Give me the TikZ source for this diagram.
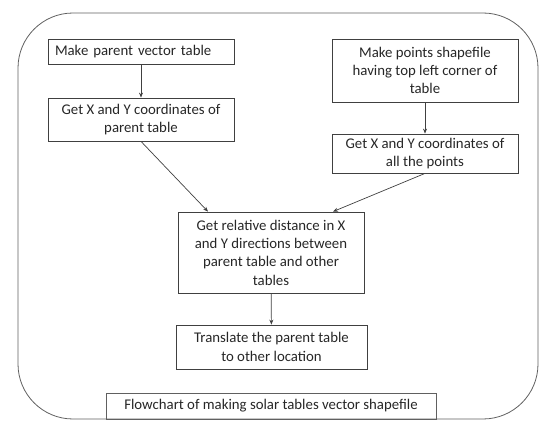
\documentclass[tikz,border=0pt]{standalone}
\usepackage{fontspec}
\setmainfont{Carlito}
\usetikzlibrary{arrows.meta,positioning}
\definecolor{edge}{HTML}{404040}
\definecolor{frame}{HTML}{606060}
\tikzset{
  stepbox/.style={draw=edge, line width=0.8pt, align=center, inner sep=0pt,
    font=\fontsize{14.8}{18.3}\selectfont, text=black!85},
  conn/.style={draw=edge, line width=0.7pt, -{Stealth[length=5pt,width=4pt]}}
}
\begin{document}
\begin{tikzpicture}[x=1pt,y=-1pt]
\useasboundingbox (0,0) rectangle (550,428);
\draw[frame, line width=0.8pt, rounded corners=55pt] (18,13) rectangle (538,419);
\node[stepbox, minimum width=186pt, minimum height=25pt, text width=172pt, align=left] (b1) at (141,51.5) {Make parent vector table};
\node[stepbox, minimum width=186pt, minimum height=43pt] (b2) at (141,119.5) {Get X and Y coordinates of\\parent table};
\node[stepbox, minimum width=186pt, minimum height=63pt] (b3) at (425,70.5) {Make points shapefile\\having top left corner of\\table};
\node[stepbox, minimum width=186pt, minimum height=39pt] (b4) at (425,153.5) {Get X and Y coordinates of\\all the points};
\node[stepbox, minimum width=186pt, minimum height=81pt] (b5) at (271,252.5) {Get relative distance in X\\and Y directions between\\parent table and other\\tables};
\node[stepbox, minimum width=191pt, minimum height=44pt] (b6) at (271.5,347) {Translate the parent table\\to other location};
\node[stepbox, draw=frame, minimum width=330pt, minimum height=26pt] (cap) at (271,406) {Flowchart of making solar tables vector shapefile};
\draw[conn] (b1) -- (b2);
\draw[conn] (b3) -- (b4);
\draw[conn] (b2.south) -- ([xshift=-63pt]b5.north);
\draw[conn] (b4.south) -- ([xshift=62pt]b5.north);
\draw[conn] (b5) -- (b6);
\end{tikzpicture}
\end{document}
